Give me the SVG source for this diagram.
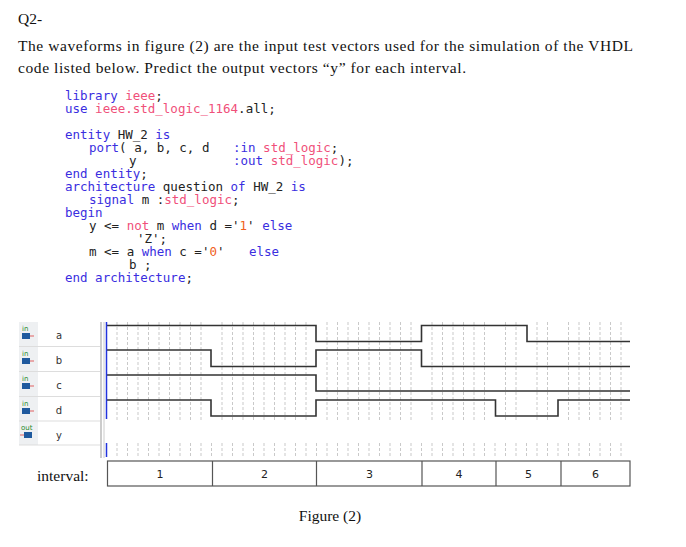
<svg xmlns="http://www.w3.org/2000/svg" width="686" height="547" viewBox="0 0 686 547">
<style>
.t{font-family:"Liberation Serif",serif;font-size:15.5px;fill:#111}
.c{font-family:"DejaVu Sans Mono",monospace;font-size:12.5px;fill:#222}
.k{fill:#3a2ee0}.p{fill:#f0507a}.n{fill:#f06020}
.w{fill:none;stroke:#333;stroke-width:1.6}
.g{stroke:#bbb;stroke-width:0.8;stroke-dasharray:3,2}
.nm{font-family:"DejaVu Sans",sans-serif;font-size:10px;fill:#333;text-anchor:middle}
.ib{fill:none;stroke:#555;stroke-width:1.2}
.il{font-family:"DejaVu Sans",sans-serif;font-size:11px;fill:#222;text-anchor:middle}
.ic{fill:#1f5a9e}.it{font-family:"DejaVu Sans",sans-serif;font-size:7px;fill:#2a8a2a}
</style>
<rect width="686" height="547" fill="#fff"/>
<text class="t" x="18" y="24">Q2-</text>
<text class="t" x="18" y="51" textLength="615">The waveforms in figure (2) are the input test vectors used for the simulation of the VHDL</text>
<text class="t" x="18" y="73" textLength="448">code listed below. Predict the output vectors “y” for each interval.</text>
<g id="code">
<text class="c" x="65" y="100"><tspan class="k">library</tspan> <tspan class="p">ieee</tspan>;</text>
<text class="c" x="65" y="113"><tspan class="k">use</tspan> <tspan class="p">ieee.std_logic_1164</tspan>.all;</text>
<text class="c" x="65" y="139"><tspan class="k">entity</tspan> HW_2 <tspan class="k">is</tspan></text>
<text class="c" x="89" y="152"><tspan class="k">port</tspan>( a, b, c, d</text>
<text class="c" x="233" y="152"><tspan class="k">:in</tspan> <tspan class="p">std_logic</tspan>;</text>
<text class="c" x="129" y="165">y</text>
<text class="c" x="233" y="165"><tspan class="k">:out</tspan> <tspan class="p">std_logic</tspan>);</text>
<text class="c" x="65" y="178"><tspan class="k">end entity</tspan>;</text>
<text class="c" x="65" y="191"><tspan class="k">architecture</tspan> question <tspan class="k">of</tspan> HW_2 <tspan class="k">is</tspan></text>
<text class="c" x="89" y="204"><tspan class="k">signal</tspan> m :<tspan class="p">std_logic</tspan>;</text>
<text class="c" x="65" y="217"><tspan class="k">begin</tspan></text>
<text class="c" x="89" y="230">y &lt;= <tspan class="p">not</tspan> m <tspan class="k">when</tspan> d ='<tspan class="n">1</tspan>' <tspan class="k">else</tspan></text>
<text class="c" x="137" y="243">'Z';</text>
<text class="c" x="89" y="256">m &lt;= a <tspan class="k">when</tspan> c ='<tspan class="n">0</tspan>'</text>
<text class="c" x="249" y="256"><tspan class="k">else</tspan></text>
<text class="c" x="129" y="269">b ;</text>
<text class="c" x="65" y="282"><tspan class="k">end architecture</tspan>;</text>
</g>
<g id="panel">
<rect x="19" y="322" width="19" height="123" fill="#eef0f2"/>
<g stroke="#ddd" stroke-width="1">
<line x1="19" y1="346.5" x2="100" y2="346.5"/><line x1="19" y1="371.5" x2="100" y2="371.5"/>
<line x1="19" y1="396.5" x2="100" y2="396.5"/><line x1="19" y1="421" x2="100" y2="421"/>
<line x1="19" y1="445" x2="100" y2="445"/>
</g>
<line x1="101" y1="322" x2="101" y2="458" stroke="#bbb" stroke-width="1.5"/>
<line x1="104" y1="322" x2="104" y2="458" stroke="#ccc" stroke-width="1"/>
<g id="icons">
<text class="it" x="22" y="331">in</text><rect class="ic" x="22" y="333" width="8" height="6"/><line x1="30" y1="336" x2="34" y2="336" stroke="#e06060"/>
<text class="it" x="22" y="356">in</text><rect class="ic" x="22" y="358" width="8" height="6"/><line x1="30" y1="361" x2="34" y2="361" stroke="#e06060"/>
<text class="it" x="22" y="381">in</text><rect class="ic" x="22" y="383" width="8" height="6"/><line x1="30" y1="386" x2="34" y2="386" stroke="#e06060"/>
<text class="it" x="22" y="406">in</text><rect class="ic" x="22" y="408" width="8" height="6"/><line x1="30" y1="411" x2="34" y2="411" stroke="#e06060"/>
<text class="it" x="21" y="430">out</text><rect class="ic" x="24" y="432" width="8" height="6"/><line x1="20" y1="435" x2="24" y2="435" stroke="#e06060"/>
</g>
<text class="nm" x="59" y="339">a</text>
<text class="nm" x="59" y="364">b</text>
<text class="nm" x="59" y="389">c</text>
<text class="nm" x="59" y="414">d</text>
<text class="nm" x="59" y="439">y</text>
</g>
<g id="grid">
<path class="g" d="M117,322V420M127.5,322V420M138,322V420M148.5,322V420M159,322V420M169.5,322V420M180,322V420M190.5,322V420M201,322V420M222,322V420M232.5,322V420M243,322V420M253.5,322V420M264,322V420M274.5,322V420M285,322V420M295.5,322V420M306,322V420M327,322V420M337.5,322V420M348,322V420M358.5,322V420M369,322V420M379.5,322V420M390,322V420M400.5,322V420M411,322V420M432,322V420M442.5,322V420M453,322V420M463.5,322V420M474,322V420M484.5,322V420M505.5,322V420M516,322V420M537,322V420M547.5,322V420M568.5,322V420M579,322V420M589.5,322V420M600,322V420M610.5,322V420M621,322V420"/>
<path class="g" d="M117,443V457M127.5,443V457M138,443V457M148.5,443V457M159,443V457M169.5,443V457M180,443V457M190.5,443V457M201,443V457M211.5,443V457M222,443V457M232.5,443V457M243,443V457M253.5,443V457M264,443V457M274.5,443V457M285,443V457M295.5,443V457M306,443V457M316.5,443V457M327,443V457M337.5,443V457M348,443V457M358.5,443V457M369,443V457M379.5,443V457M390,443V457M400.5,443V457M411,443V457M421.5,443V457M432,443V457M442.5,443V457M453,443V457M463.5,443V457M474,443V457M484.5,443V457M495,443V457M505.5,443V457M516,443V457M526.5,443V457M537,443V457M547.5,443V457M558,443V457M568.5,443V457M579,443V457M589.5,443V457M600,443V457M610.5,443V457M621,443V457"/>
</g>
<g id="waves">
<path class="w" d="M107,325.5H316V341.5H421.5V325.5H527V341.5H630"/>
<path class="w" d="M107,350H211V366.5H316V350H421.5V366.5H630"/>
<path class="w" d="M107,375H316V391H630"/>
<path class="w" d="M107,400H211V416H316V400H495.5V416H558V400H630"/>
<line x1="106.5" y1="322" x2="106.5" y2="419" stroke="#2233dd" stroke-width="1.5"/>
<line x1="106.5" y1="443" x2="106.5" y2="457" stroke="#2233dd" stroke-width="1.5"/>
</g>
<g id="intervals">
<text class="t" x="37" y="481" font-size="14">interval:</text>
<rect class="ib" x="107.5" y="461" width="522.5" height="25"/>
<path class="ib" d="M212.5,461V486M316.5,461V486M422,461V486M496,461V486M561,461V486"/>
<text class="il" x="160" y="478">1</text>
<text class="il" x="264.5" y="478">2</text>
<text class="il" x="369.5" y="478">3</text>
<text class="il" x="459" y="478">4</text>
<text class="il" x="528.5" y="478">5</text>
<text class="il" x="595.5" y="478">6</text>
</g>
<text class="t" x="330" y="521" text-anchor="middle">Figure (2)</text>
</svg>
